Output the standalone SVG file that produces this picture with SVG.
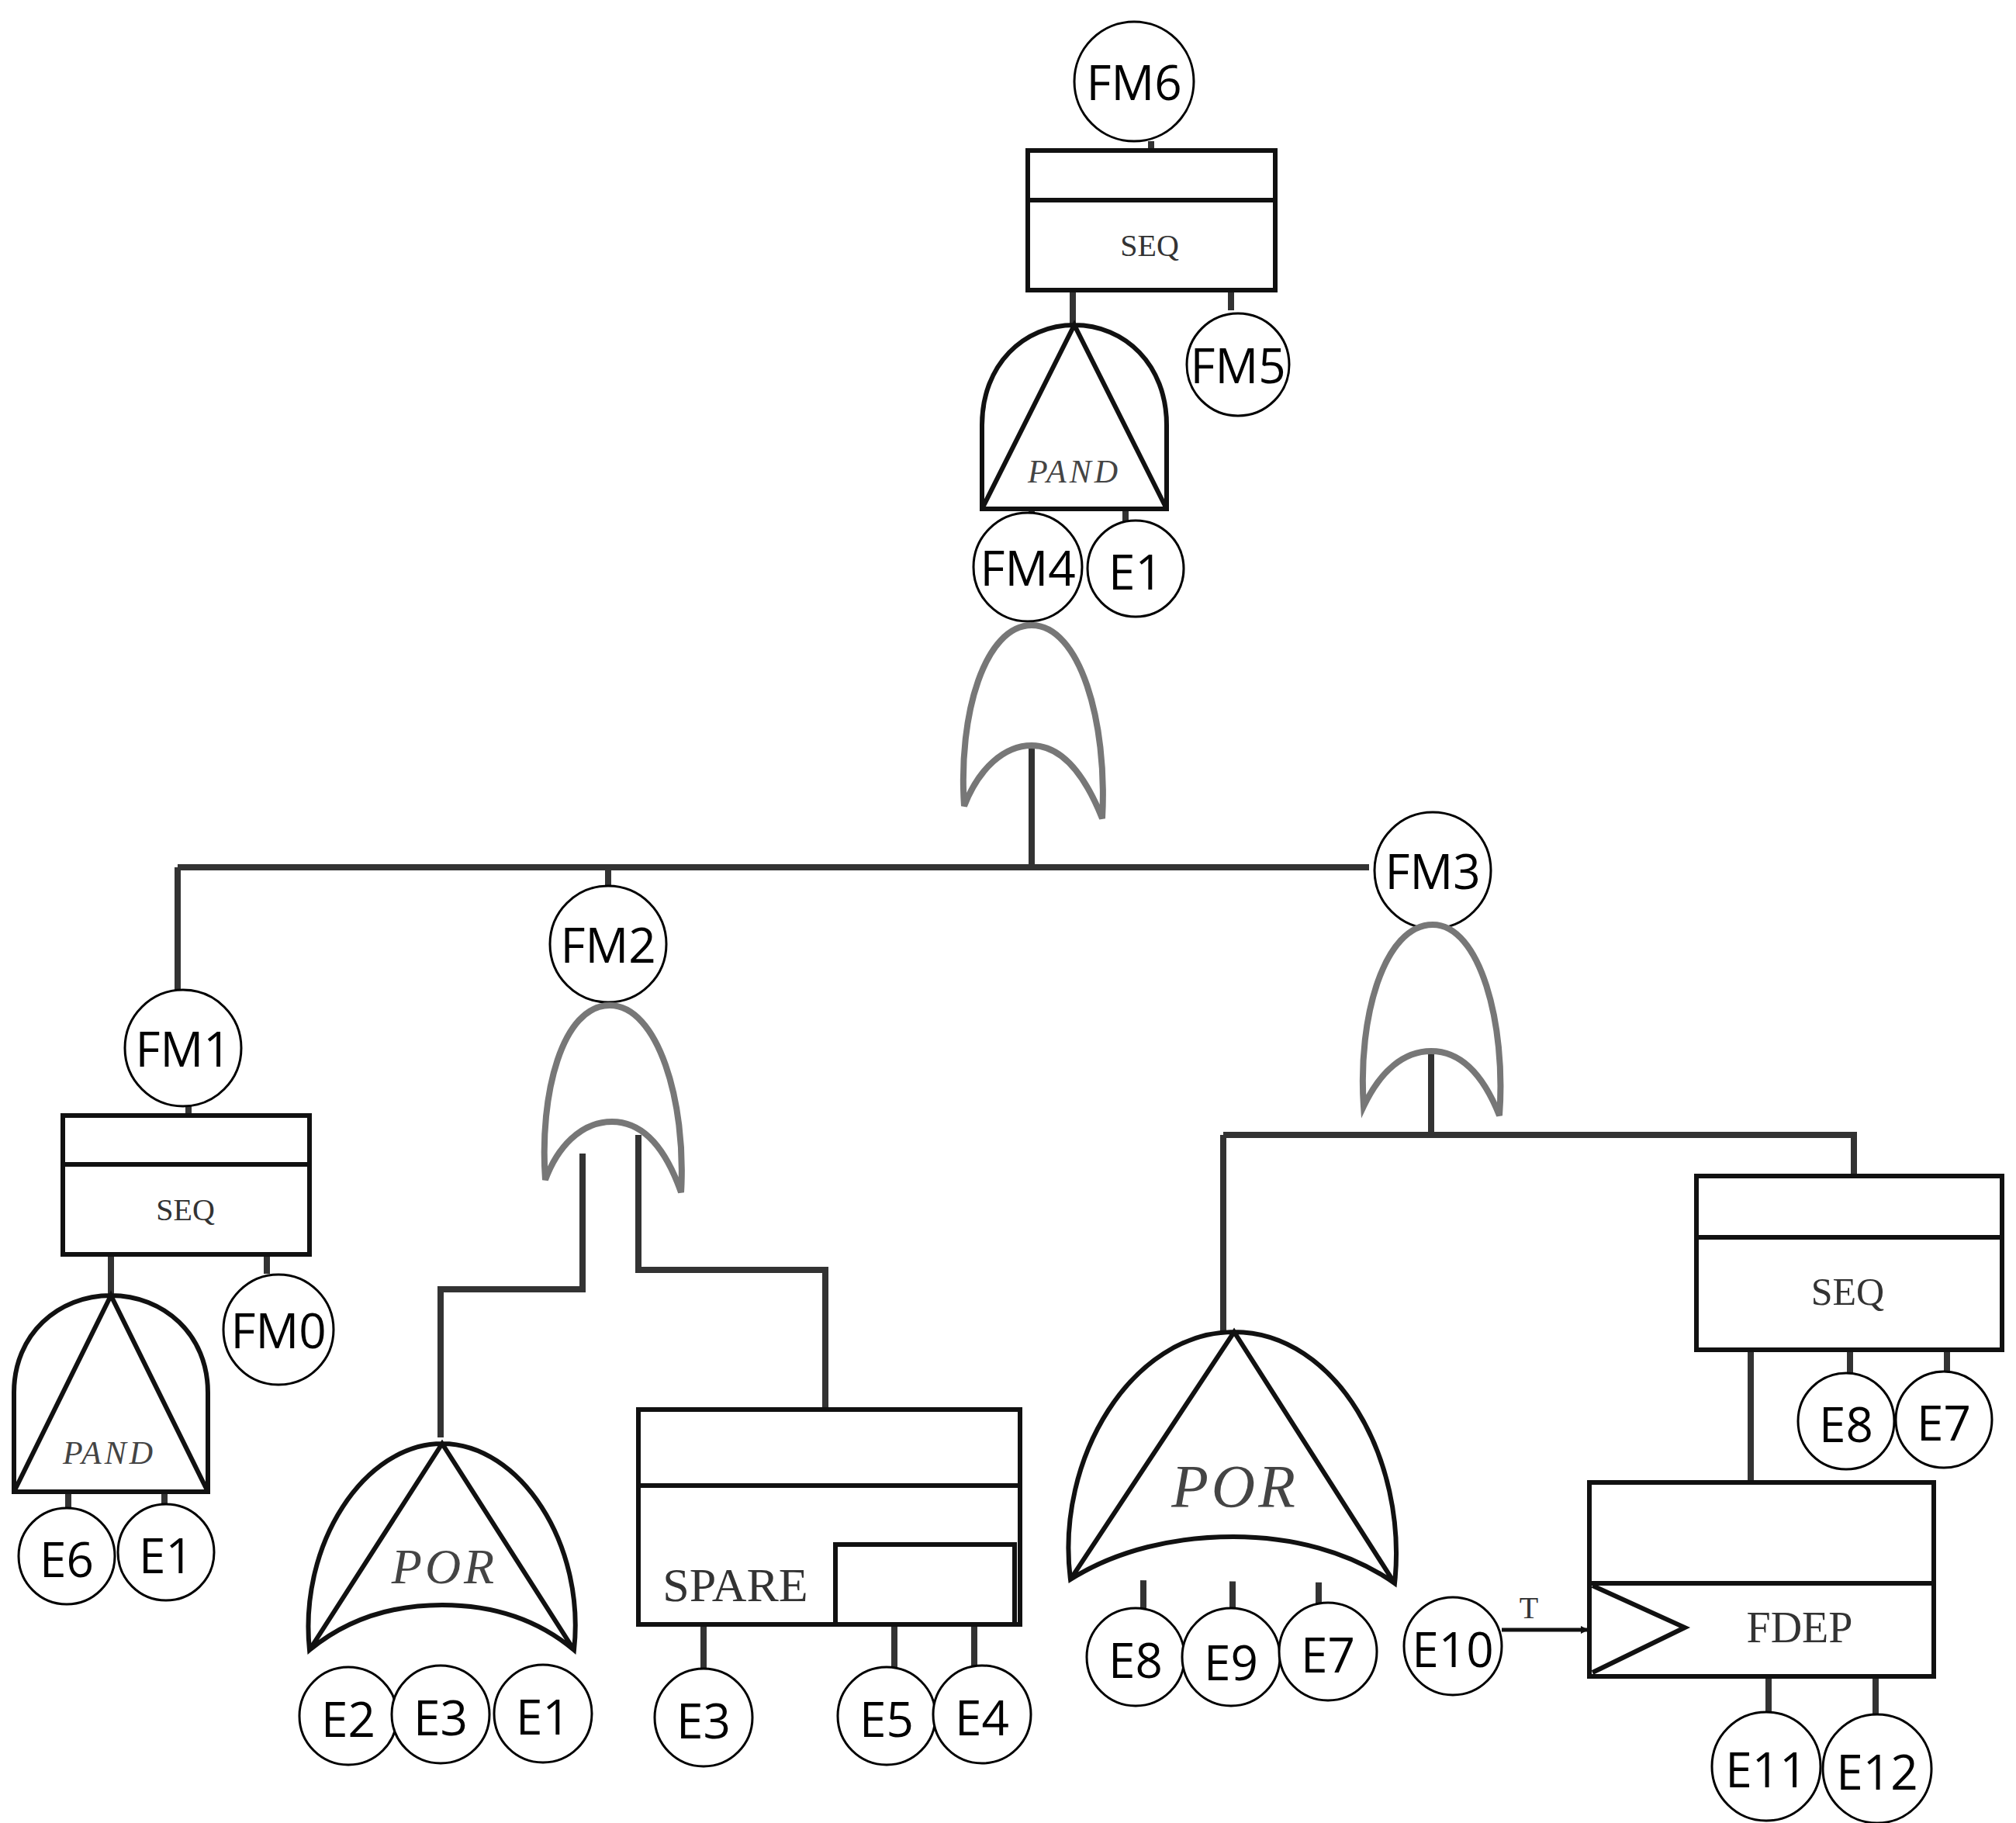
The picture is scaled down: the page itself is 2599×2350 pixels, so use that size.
<svg xmlns="http://www.w3.org/2000/svg" width="2599" height="2350" viewBox="0 0 2599 2350">
<style>
.bg{fill:#fff}
.c{fill:#fff;stroke:#000;stroke-width:3}
.t{font-family:"Open Sans","Liberation Sans",sans-serif;font-size:62px;fill:#000;text-anchor:middle;dominant-baseline:central}
.g{fill:#fff;stroke:#111;stroke-width:6}
.gn{fill:none;stroke:#111;stroke-width:6}
.or{fill:#fff;stroke:#777;stroke-width:8}
.w{fill:none;stroke:#333;stroke-width:8}
.wg{fill:none;stroke:#777;stroke-width:8}
.s{font-family:"Liberation Serif",serif;fill:#333;text-anchor:middle;dominant-baseline:central}
.i{font-family:"Liberation Serif",serif;font-style:italic;fill:#444;text-anchor:middle;dominant-baseline:central;letter-spacing:4px}
</style>
<defs><marker id="ah" markerWidth="10" markerHeight="10" refX="9" refY="5" orient="auto" markerUnits="userSpaceOnUse" viewBox="0 0 10 10"><path d="M0,0 L10,5 L0,10z" fill="#111"/></marker></defs>
<rect class="bg" width="2599" height="2350"/>
<g id="connectors">
<path class="w" d="M1484 182V194 M1383 374V419 M1587 374V400 M1330 961V1118 M229 1118H1765 M229 1118V1276 M784 1118V1142 M243 1426V1438 M143 1617V1670 M344 1617V1642 M1330 656V670 M1451 656V672"/>
<path class="w" d="M751 1487V1662H568V1853 M823 1463V1637H1064V1817"/>
<path class="w" d="M88 1923V1944 M212 1923V1940"/>
<path class="wg" d="M477 2069V2122 M560 2090V2125"/>
<path class="w" d="M661 2080V2122 M907 2094V2152 M1153 2094V2150 M1256 2094V2148"/>
<path class="w" d="M1845 1355V1463 M1577 1463H2390V1516 M1577 1463V1720"/>
<path class="w" d="M2257 1740V1911 M2385 1740V1770 M2510 1740V1770"/>
<path class="w" d="M1474 1995V2074 M1589 1985V2075 M1700 1995V2070"/>
<path class="w" d="M2280 2161V2207 M2418 2161V2210"/>
<line x1="1936" y1="2101" x2="2047" y2="2101" stroke="#111" stroke-width="5" marker-end="url(#ah)"/>
<text class="s" x="1971" y="2072" font-size="40">T</text>
</g>
<g id="FM6"><circle class="c" cx="1462" cy="105" r="77"/><text class="t" x="1462" y="105">FM6</text></g>
<g id="SEQ_top"><rect class="g" x="1325" y="194" width="319" height="180"/><line class="gn" x1="1325" y1="258" x2="1644" y2="258"/><text class="s" x="1482" y="316" font-size="40">SEQ</text></g>
<g id="FM5"><circle class="c" cx="1596" cy="470" r="66"/><text class="t" x="1596" y="470">FM5</text></g>
<g id="PAND_top"><path class="g" d="M1266 656V548C1266 470 1320 419 1385 419C1450 419 1504 470 1504 548V656Z M1266 656L1385 419L1504 656"/><text class="i" x="1385" y="608" font-size="42">PAND</text></g>
<g id="FM4"><circle class="c" cx="1325" cy="731" r="70"/><text class="t" x="1325" y="731">FM4</text></g>
<g id="E1a"><circle class="c" cx="1464" cy="733" r="62"/><text class="t" x="1464" y="736">E1</text></g>
<g id="OR_top"><path class="or" d="M1243 1039C1235 920 1270 806 1330 806C1392 806 1428 930 1421 1055C1395 990 1365 961 1330 961C1295 961 1262 990 1243 1039Z"/></g>
<g id="FM1"><circle class="c" cx="236" cy="1351" r="75"/><text class="t" x="236" y="1351">FM1</text></g>
<g id="FM2"><circle class="c" cx="784" cy="1217" r="75"/><text class="t" x="784" y="1217">FM2</text></g>
<g id="FM3"><circle class="c" cx="1847" cy="1122" r="75"/><text class="t" x="1847" y="1122">FM3</text></g>
<g id="SEQ_left"><rect class="g" x="81" y="1438" width="318" height="179"/><line class="gn" x1="81" y1="1501" x2="399" y2="1501"/><text class="s" x="239" y="1559" font-size="40">SEQ</text></g>
<g id="FM0"><circle class="c" cx="359" cy="1714" r="71"/><text class="t" x="359" y="1714">FM0</text></g>
<g id="PAND_left"><path class="g" d="M18 1923V1795C18 1720 75 1670 143 1670C211 1670 268 1720 268 1795V1923Z M18 1923L143 1670L268 1923"/><text class="i" x="141" y="1873" font-size="42">PAND</text></g>
<g id="E6"><circle class="c" cx="86" cy="2006" r="62"/><text class="t" x="86" y="2009">E6</text></g>
<g id="E1b"><circle class="c" cx="214" cy="2001" r="62"/><text class="t" x="214" y="2004">E1</text></g>
<g id="OR_FM2"><path class="or" d="M703 1521C695 1410 725 1296 786 1296C848 1296 885 1420 878 1537C858 1480 830 1446 789 1446C748 1446 718 1480 703 1521Z"/></g>
<g id="POR_left"><path class="g" d="M399 2127C385 1990 470 1861 570 1861C670 1861 755 1990 740 2127C690 2085 630 2069 570 2069C510 2069 450 2085 399 2127Z M399 2127L570 1861L740 2127"/><text class="i" x="573" y="2019" font-size="64">POR</text></g>
<g id="E2"><circle class="c" cx="449" cy="2212" r="63"/><text class="t" x="449" y="2215">E2</text></g>
<g id="E3a"><circle class="c" cx="568" cy="2210" r="63"/><text class="t" x="568" y="2213">E3</text></g>
<g id="E1c"><circle class="c" cx="700" cy="2209" r="63"/><text class="t" x="700" y="2212">E1</text></g>
<g id="SPARE"><rect class="g" x="823" y="1817" width="492" height="277"/><line class="gn" x1="823" y1="1915" x2="1315" y2="1915"/><rect class="gn" x="1077" y="1991" width="231" height="103"/><text class="s" x="948" y="2043" font-size="62">SPARE</text></g>
<g id="E3b"><circle class="c" cx="907" cy="2214" r="63"/><text class="t" x="907" y="2217">E3</text></g>
<g id="E5"><circle class="c" cx="1143" cy="2212" r="63"/><text class="t" x="1143" y="2215">E5</text></g>
<g id="E4"><circle class="c" cx="1266" cy="2210" r="63"/><text class="t" x="1266" y="2213">E4</text></g>
<g id="OR_FM3"><path class="or" d="M1758 1426C1750 1310 1785 1192 1847 1192C1908 1192 1942 1320 1933 1438C1910 1380 1880 1355 1845 1355C1810 1355 1780 1380 1758 1426Z"/></g>
<g id="POR_right"><path class="g" d="M1380 2036C1360 1880 1460 1717 1591 1717C1722 1717 1815 1880 1798 2041C1740 2000 1665 1981 1590 1981C1515 1981 1440 1998 1380 2036Z M1380 2036L1591 1717L1798 2041"/><text class="i" x="1592" y="1915" font-size="78">POR</text></g>
<g id="E8a"><circle class="c" cx="1464" cy="2136" r="63"/><text class="t" x="1464" y="2139">E8</text></g>
<g id="E9"><circle class="c" cx="1587" cy="2136" r="63"/><text class="t" x="1587" y="2142">E9</text></g>
<g id="E7a"><circle class="c" cx="1712" cy="2129" r="63"/><text class="t" x="1712" y="2132">E7</text></g>
<g id="SEQ_right"><rect class="g" x="2187" y="1516" width="394" height="224"/><line class="gn" x1="2187" y1="1595" x2="2581" y2="1595"/><text class="s" x="2382" y="1665" font-size="50">SEQ</text></g>
<g id="E8b"><circle class="c" cx="2380" cy="1832" r="62"/><text class="t" x="2380" y="1835">E8</text></g>
<g id="E7b"><circle class="c" cx="2506" cy="1830" r="62"/><text class="t" x="2506" y="1833">E7</text></g>
<g id="E10"><circle class="c" cx="1873" cy="2122" r="63"/><text class="t" x="1873" y="2125">E10</text></g>
<g id="FDEP"><rect class="g" x="2049" y="1911" width="444" height="250"/><line class="gn" x1="2049" y1="2041" x2="2493" y2="2041"/><path class="gn" d="M2053 2044L2172 2098L2053 2156"/><text class="s" x="2320" y="2098" font-size="56">FDEP</text></g>
<g id="E11"><circle class="c" cx="2277" cy="2277" r="70"/><text class="t" x="2277" y="2280">E11</text></g>
<g id="E12"><circle class="c" cx="2420" cy="2280" r="70"/><text class="t" x="2420" y="2283">E12</text></g>
</svg>
